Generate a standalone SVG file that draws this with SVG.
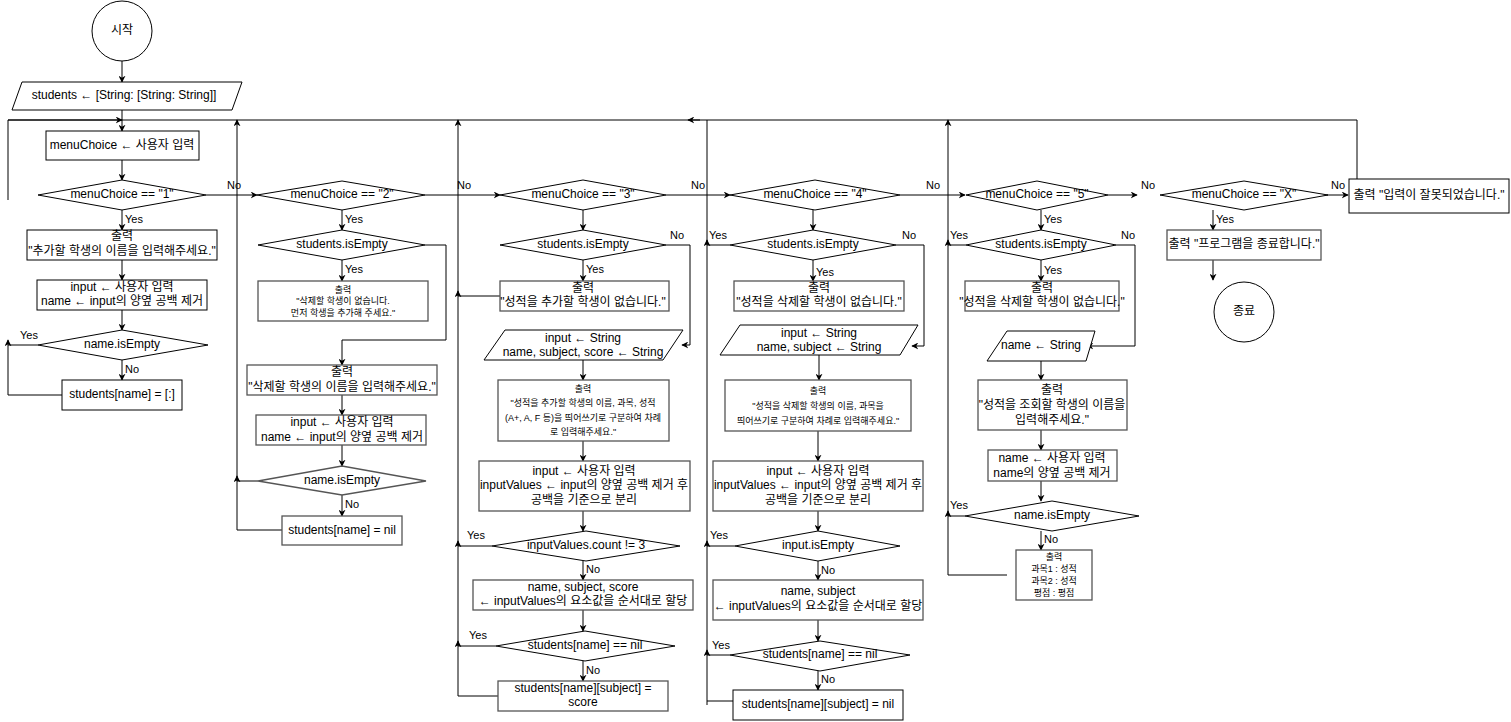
<svg xmlns="http://www.w3.org/2000/svg" width="1511" height="722" viewBox="0 0 1511 722">
<style>
text{font-family:"Liberation Sans","Noto Sans CJK KR",sans-serif;font-size:12px;fill:#000;text-anchor:middle;dominant-baseline:middle}
.s{font-size:9px}
.l{font-size:11px;text-anchor:start}
.n{fill:#fff;stroke:#000;stroke-width:1}
.g{fill:#fff;stroke:#555;stroke-width:1.3}
.c{fill:none;stroke:#000;stroke-width:1;marker-end:url(#a)}
.p{fill:none;stroke:#000;stroke-width:1}
</style>
<defs><marker id="a" viewBox="0 0 10 10" refX="9" refY="5" markerWidth="7" markerHeight="7" orient="auto" markerUnits="userSpaceOnUse"><path d="M0,0 L10,5 L0,10 L3,5z" fill="#000"/></marker></defs>
<rect width="1511" height="722" fill="#fff"/>
<g id="connectors">
<path class="c" d="M122,60 V82"/>
<path class="c" d="M122,110 V131"/>
<path class="p" d="M8,120 H1357 V179"/>
<path class="c" d="M700,120 H688"/>
<path class="c" d="M8,200 V120 H122"/>
<path class="c" d="M122,160 V180"/>
<path class="c" d="M206,195 H257"/><text class="l" x="227" y="186">No</text>
<path class="c" d="M122,210 V230"/><text class="l" x="125" y="220">Yes</text>
<path class="c" d="M122,260 V280"/>
<path class="c" d="M122,310 V330"/>
<path class="c" d="M38,345 H8 V340"/><text class="l" x="20" y="336">Yes</text>
<path class="c" d="M122,360 V380"/><text class="l" x="125" y="370">No</text>
<path class="p" d="M62,395 H8 V345"/>
<path class="c" d="M342,210 V230"/><text class="l" x="345" y="220">Yes</text>
<path class="c" d="M342,260 V281"/><text class="l" x="345" y="270">Yes</text>
<path class="c" d="M425,245 H446 V340 H342 V365"/>
<path class="c" d="M342,395 V415"/>
<path class="c" d="M342,445 V466"/>
<path class="c" d="M342,495 V516"/><text class="l" x="345" y="505">No</text>
<path class="c" d="M258,481 H237 V476"/>
<path class="c" d="M282,530 H237 V120"/>
<path class="c" d="M425,195 H500"/><text class="l" x="457" y="186">No</text>
<path class="c" d="M458,696 V120"/>
<path class="c" d="M583,210 V230"/>
<path class="c" d="M583,260 V281"/><text class="l" x="586" y="270">Yes</text>
<path class="c" d="M666,245 H690 V345 H682"/><text class="l" x="670" y="236">No</text>
<path class="c" d="M500,296 H458 V291"/>
<path class="c" d="M583,360 V380"/>
<path class="c" d="M583,441 V461"/>
<path class="c" d="M583,511 V531"/>
<path class="c" d="M492,546 H458 V541"/><text class="l" x="467" y="536">Yes</text>
<path class="c" d="M583,561 V580"/><text class="l" x="586" y="570">No</text>
<path class="c" d="M583,610 V631"/>
<path class="c" d="M496,646 H458 V641"/><text class="l" x="469" y="636">Yes</text>
<path class="c" d="M583,661 V681"/><text class="l" x="586" y="671">No</text>
<path class="p" d="M498,696 H458"/>
<path class="c" d="M666,195 H730"/><text class="l" x="691" y="186">No</text>
<path class="p" d="M707,705 V120"/>
<path class="c" d="M813,210 V230"/>
<path class="c" d="M813,260 V281"/><text class="l" x="816" y="273">Yes</text>
<path class="c" d="M730,245 H707 V240"/><text class="l" x="709" y="236">Yes</text>
<path class="c" d="M896,245 H924 V346 H912"/><text class="l" x="902" y="236">No</text>
<path class="c" d="M819,355 V380"/>
<path class="c" d="M818,431 V461"/>
<path class="c" d="M818,511 V531"/>
<path class="c" d="M735,546 H707 V541"/><text class="l" x="710" y="536">Yes</text>
<path class="c" d="M818,561 V580"/><text class="l" x="821" y="571">No</text>
<path class="c" d="M818,620 V641"/>
<path class="c" d="M730,655 H707 V650"/><text class="l" x="712" y="646">Yes</text>
<path class="c" d="M818,671 V690"/><text class="l" x="821" y="680">No</text>
<path class="p" d="M733,701 H707"/>
<path class="c" d="M900,195 H965"/><text class="l" x="926" y="186">No</text>
<path class="c" d="M948,575 V120"/>
<path class="c" d="M1041,210 V230"/><text class="l" x="1044" y="220">Yes</text>
<path class="c" d="M1041,260 V281"/><text class="l" x="1044" y="271">Yes</text>
<path class="c" d="M966,245 H948 V240"/><text class="l" x="950" y="236">Yes</text>
<path class="c" d="M1116,245 H1135 V346 H1087"/><text class="l" x="1121" y="236">No</text>
<path class="c" d="M1041,361 V380"/>
<path class="c" d="M1041,430 V450"/>
<path class="c" d="M1041,481 V501"/>
<path class="c" d="M965,516 H948 V511"/><text class="l" x="950" y="506">Yes</text>
<path class="c" d="M1041,531 V550"/><text class="l" x="1044" y="540">No</text>
<path class="p" d="M1007,575 H948"/>
<path class="c" d="M1108,195 H1137"/><text class="l" x="1141" y="186">No</text>
<path class="c" d="M1213,210 V230"/><text class="l" x="1216" y="220">Yes</text>
<path class="c" d="M1213,260 V280"/>
<path class="c" d="M1290,195 H1348"/><text class="l" x="1331" y="186">No</text>
</g>
<g id="start"><circle class="n" cx="122" cy="31" r="30"/><text x="122" y="31">시작</text></g>
<g id="init"><polygon class="n" points="22,82 242,82 232,110 12,110"/><text x="124" y="96">students ← [String: [String: String]]</text></g>
<g id="c1a"><rect class="n" x="46" y="131" width="153" height="29"/><text x="122" y="146">menuChoice ← 사용자 입력</text></g>
<g id="d1"><polygon class="n" points="38,195 122,180 206,195 122,210"/><text x="122" y="195">menuChoice == "1"</text></g>
<g id="c1b"><rect class="n" x="27" y="230" width="190" height="30"/><text x="122" y="237">출력</text><text x="122" y="252">"추가할 학생의 이름을 입력해주세요."</text></g>
<g id="c1c"><rect class="n" x="37" y="280" width="170" height="30"/><text x="122" y="288">input ← 사용자 입력</text><text x="122" y="302">name ← input의 양옆 공백 제거</text></g>
<g id="c1d"><polygon class="n" points="38,345 122,330 208,345 122,360"/><text x="122" y="345">name.isEmpty</text></g>
<g id="c1e"><rect class="n" x="62" y="380" width="120" height="30"/><text x="122" y="395">students[name] = [:]</text></g>
<g id="d2"><polygon class="n" points="257,195 342,181 425,195 342,210"/><text x="342" y="195">menuChoice == "2"</text></g>
<g id="c2a"><polygon class="n" points="258,245 342,230 425,245 342,260"/><text x="342" y="245">students.isEmpty</text></g>
<g id="c2b"><rect class="g" x="258" y="281" width="170" height="40"/><text class="s" x="343" y="291">출력</text><text class="s" x="343" y="302">"삭제할 학생이 없습니다.</text><text class="s" x="343" y="314">먼저 학생을 추가해 주세요."</text></g>
<g id="c2c"><rect class="g" x="247" y="365" width="190" height="30"/><text x="342" y="373">출력</text><text x="342" y="388">"삭제할 학생의 이름을 입력해주세요."</text></g>
<g id="c2d"><rect class="g" x="256" y="415" width="170" height="30"/><text x="342" y="423">input ← 사용자 입력</text><text x="342" y="438">name ← input의 양옆 공백 제거</text></g>
<g id="c2e"><polygon class="g" points="258,481 342,466 426,481 342,495"/><text x="342" y="481">name.isEmpty</text></g>
<g id="c2f"><rect class="g" x="282" y="516" width="120" height="29"/><text x="342" y="531">students[name] = nil</text></g>
<g id="d3"><polygon class="n" points="500,195 583,180 666,195 583,210"/><text x="583" y="195">menuChoice == "3"</text></g>
<g id="c3a"><polygon class="n" points="500,245 583,230 666,245 583,260"/><text x="583" y="245">students.isEmpty</text></g>
<g id="c3b"><rect class="g" x="500" y="281" width="169" height="30"/><text x="583" y="289">출력</text><text x="583" y="303">"성적을 추가할 학생이 없습니다."</text></g>
<g id="c3c"><polygon class="n" points="505,330 683,330 663,360 484,360"/><text x="583" y="339">input ← String</text><text x="583" y="353">name, subject, score ← String</text></g>
<g id="c3d"><rect class="g" x="498" y="380" width="171" height="61"/><text class="s" x="583" y="390">출력</text><text class="s" x="583" y="404">"성적을 추가할 학생의 이름, 과목, 성적</text><text class="s" x="583" y="419">(A+, A, F 등)을 띄어쓰기로 구분하여 차례</text><text class="s" x="583" y="433">로 입력해주세요."</text></g>
<g id="c3e"><rect class="g" x="479" y="461" width="211" height="50"/><text x="584" y="472">input ← 사용자 입력</text><text x="584" y="486">inputValues ← input의 양옆 공백 제거 후</text><text x="584" y="501">공백을 기준으로 분리</text></g>
<g id="c3f"><polygon class="n" points="492,546 586,531 680,546 586,561"/><text x="586" y="546">inputValues.count != 3</text></g>
<g id="c3g"><rect class="g" x="473" y="580" width="220" height="30"/><text x="583" y="588">name, subject, score</text><text x="583" y="602">← inputValues의 요소값을 순서대로 할당</text></g>
<g id="c3h"><polygon class="n" points="496,646 585,631 675,646 585,661"/><text x="585" y="646">students[name] == nil</text></g>
<g id="c3i"><rect class="g" x="498" y="681" width="170" height="30"/><text x="583" y="689">students[name][subject] =</text><text x="583" y="703">score</text></g>
<g id="d4"><polygon class="n" points="730,195 815,180 900,195 815,210"/><text x="815" y="195">menuChoice == "4"</text></g>
<g id="c4a"><polygon class="n" points="730,245 813,230 896,245 813,260"/><text x="813" y="245">students.isEmpty</text></g>
<g id="c4b"><rect class="g" x="734" y="281" width="170" height="30"/><text x="819" y="289">출력</text><text x="819" y="303">"성적을 삭제할 학생이 없습니다."</text></g>
<g id="c4c"><polygon class="n" points="740,325 918,325 900,355 720,355"/><text x="819" y="334">input ← String</text><text x="819" y="348">name, subject ← String</text></g>
<g id="c4d"><rect class="g" x="725" y="380" width="186" height="51"/><text class="s" x="818" y="392">출력</text><text class="s" x="818" y="407">"성적을 삭제할 학생의 이름, 과목을</text><text class="s" x="818" y="422">띄어쓰기로 구분하여 차례로 입력해주세요."</text></g>
<g id="c4e"><rect class="g" x="713" y="461" width="210" height="50"/><text x="818" y="472">input ← 사용자 입력</text><text x="818" y="486">inputValues ← input의 양옆 공백 제거 후</text><text x="818" y="501">공백을 기준으로 분리</text></g>
<g id="c4f"><polygon class="n" points="735,546 818,531 900,546 818,561"/><text x="818" y="546">input.isEmpty</text></g>
<g id="c4g"><rect class="g" x="713" y="580" width="210" height="40"/><text x="818" y="592">name, subject</text><text x="818" y="607">← inputValues의 요소값을 순서대로 할당</text></g>
<g id="c4h"><polygon class="n" points="730,655 820,641 910,655 820,671"/><text x="820" y="655">students[name] == nil</text></g>
<g id="c4i"><rect class="n" x="733" y="690" width="170" height="30"/><text x="818" y="705">students[name][subject] = nil</text></g>
<g id="d5"><polygon class="n" points="966,195 1037,181 1108,195 1037,210"/><text x="1037" y="195">menuChoice == "5"</text></g>
<g id="c5a"><polygon class="n" points="966,245 1041,230 1116,245 1041,260"/><text x="1041" y="245">students.isEmpty</text></g>
<g id="c5b"><rect class="g" x="965" y="281" width="154" height="30"/><text x="1042" y="289">출력</text><text x="1042" y="303">"성적을 삭제할 학생이 없습니다."</text></g>
<g id="c5c"><polygon class="n" points="1007,331 1095,331 1086,361 987,361"/><text x="1041" y="346">name ← String</text></g>
<g id="c5d"><rect class="g" x="978" y="380" width="149" height="50"/><text x="1052" y="391">출력</text><text x="1052" y="406">"성적을 조회할 학생의 이름을</text><text x="1052" y="421">입력해주세요."</text></g>
<g id="c5e"><rect class="g" x="988" y="450" width="129" height="31"/><text x="1052" y="459">name ← 사용자 입력</text><text x="1052" y="474">name의 양옆 공백 제거</text></g>
<g id="c5f"><polygon class="n" points="965,516 1052,501 1139,516 1052,531"/><text x="1052" y="516">name.isEmpty</text></g>
<g id="c5g"><rect class="g" x="1016" y="550" width="76" height="50"/><text class="s" x="1054" y="558">출력</text><text class="s" x="1054" y="570">과목1 : 성적</text><text class="s" x="1054" y="582">과목2 : 성적</text><text class="s" x="1054" y="594">평점 : 평점</text></g>
<g id="dX"><polygon class="n" points="1160,195 1244,181 1328,195 1244,210"/><text x="1244" y="195">menuChoice == "X"</text></g>
<g id="cXa"><rect class="g" x="1167" y="230" width="154" height="30"/><text x="1244" y="245">출력 "프로그램을 종료합니다."</text></g>
<g id="end"><circle class="n" cx="1244" cy="312" r="30"/><text x="1244" y="312">종료</text></g>
<g id="err"><rect class="n" x="1349" y="179" width="160" height="34"/><text x="1429" y="196">출력 "입력이 잘못되었습니다."</text></g>
</svg>
